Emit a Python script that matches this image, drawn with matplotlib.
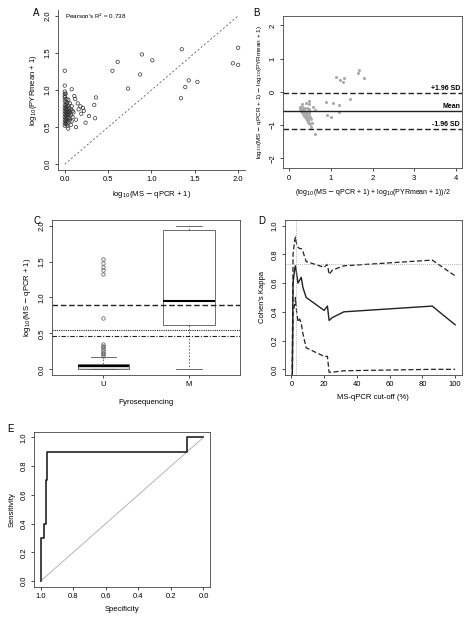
import matplotlib
matplotlib.use("Agg")
import matplotlib.pyplot as plt
import numpy as np

plt.rcParams['font.family'] = ['Liberation Sans', 'DejaVu Sans']
plt.rcParams['font.size'] = 5.5

# Panel A data: log10(MS-qPCR+1), log10(PYRmean+1)
a_x = [0.0,0.0,0.0,0.0,0.08,0.55,0.61,0.73,0.87,0.89,1.01,1.35,1.34,1.39,1.43,1.53,1.94,2.0,2.0,
       0.36,0.34,0.35,0.24,0.28,0.13,0.07,0.04,0.21,0.22,0.15,0.18,0.12,0.10,0.13,0.19,0.16,0.09,0.11,
       0.0,0.0,0.0,0.0,0.0,0.0,0.0,0.0,0.0,0.0,0.01,0.01,0.01,0.01,0.01,0.01,0.01,0.01,
       0.02,0.02,0.02,0.02,0.02,0.02,0.02,0.03,0.03,0.03,0.03,0.03,0.03,0.04,0.04,0.04,0.04,0.04,
       0.05,0.05,0.05,0.05,0.06,0.06,0.06,0.07,0.07,0.08,0.08,0.09,0.02,0.01,0.0,0.03]
a_y = [1.26,1.06,0.98,0.95,1.01,1.26,1.38,1.02,1.21,1.48,1.40,1.55,0.89,1.04,1.13,1.11,1.36,1.57,1.34,
       0.90,0.80,0.62,0.56,0.65,0.50,0.53,0.48,0.76,0.72,0.82,0.78,0.88,0.70,0.60,0.68,0.74,0.64,0.92,
       0.52,0.56,0.60,0.64,0.68,0.72,0.76,0.80,0.86,0.92,0.54,0.58,0.62,0.66,0.70,0.74,0.78,0.84,
       0.57,0.61,0.65,0.69,0.73,0.77,0.81,0.55,0.63,0.67,0.71,0.75,0.83,0.59,0.66,0.70,0.79,0.87,
       0.62,0.68,0.72,0.76,0.60,0.70,0.82,0.66,0.74,0.58,0.78,0.72,0.88,0.95,0.90,0.52]
pearson_text = "Pearson's R$^2$ = 0.738"

# Panel B reference lines
b_mean, b_upper, b_lower = -0.57, -0.03, -1.12

# Panel C boxplot stats
c_labels = ['U', 'M']
c_stats = [dict(med=0.04, q1=0.01, q3=0.08, whislo=0.0, whishi=0.17,
                fliers=[0.19,0.21,0.23,0.25,0.28,0.31,0.33,0.35,0.72,1.33,1.38,1.43,1.48,1.53]),
           dict(med=0.95, q1=0.62, q3=1.94, whislo=0.0, whishi=2.0, fliers=[])]
c_dashed, c_dotted, c_dashdot = 0.90, 0.55, 0.47

# Panel D kappa curves
d_x = [0.5,1,2,2.5,3,4,5,6,7,9,20,22,23,25,32,86,100]
d_k = [-0.1,0.6,0.7,0.72,0.68,0.6,0.62,0.64,0.57,0.5,0.41,0.44,0.34,0.36,0.4,0.44,0.31]
d_hi = [0.0,0.8,0.9,0.92,0.88,0.85,0.84,0.84,0.82,0.75,0.71,0.73,0.66,0.69,0.72,0.76,0.65]
d_lo = [-0.1,0.4,0.45,0.5,0.42,0.33,0.35,0.32,0.25,0.15,0.09,0.09,-0.02,-0.02,-0.01,0.0,0.0]
d_vline, d_hline = 2.5, 0.73

# Panel E ROC
e_spec = [1.0,1.0,0.98,0.98,0.97,0.97,0.96,0.96,0.1,0.1,0.0]
e_sens = [0.0,0.3,0.3,0.4,0.4,0.7,0.7,0.9,0.9,1.0,1.0]

fig = plt.figure(figsize=(4.74, 6.21), dpi=100)

def rstyle(ax, box=True):
    for s in ax.spines.values():
        s.set_linewidth(0.6)
        s.set_color('#444444')
    if not box:
        ax.spines['top'].set_visible(False)
        ax.spines['right'].set_visible(False)
    ax.tick_params(width=0.5, length=2.5, labelsize=5.5, pad=2)
    for lab in ax.get_yticklabels():
        lab.set_rotation(90)
        lab.set_va('center')

# A
axA = fig.add_axes([0.122, 0.726, 0.395, 0.258])
axA.scatter(a_x, a_y, s=6, facecolors='none', edgecolors='#333333', linewidths=0.5)
axA.plot([0, 2], [0, 2], ls=(0, (3, 3)), color='#444444', lw=0.5)
axA.set_xlim(-0.08, 2.08); axA.set_ylim(-0.08, 2.08)
axA.set_xticks([0, 0.5, 1.0, 1.5, 2.0]); axA.set_yticks([0, 0.5, 1.0, 1.5, 2.0])
axA.set_xticklabels(['0.0','0.5','1.0','1.5','2.0']); axA.set_yticklabels(['0.0','0.5','1.0','1.5','2.0'])
axA.set_xlabel(r'log$_{10}$(MS $-$ qPCR + 1)')
axA.set_ylabel(r'log$_{10}$(PYRmean + 1)')
axA.text(0.0, 2.0, pearson_text, fontsize=4.5, va='center')
rstyle(axA, box=False)
fig.text(0.07, 0.975, 'A', fontsize=7)

# B
axB = fig.add_axes([0.597, 0.729, 0.378, 0.246])
ax_ = np.array(a_x); ay_ = np.array(a_y)
axB.scatter((ax_ + ay_) / 2, ax_ - ay_, s=5, color='#aaaaaa', linewidths=0)
axB.axhline(b_mean, color='#222222', lw=1)
axB.axhline(b_upper, color='#222222', lw=1, ls=(0, (4, 2)))
axB.axhline(b_lower, color='#222222', lw=1, ls=(0, (4, 2)))
axB.text(4.1, b_upper + 0.03, '+1.96 SD', ha='right', va='bottom', fontsize=5, fontweight='bold')
axB.text(4.1, b_mean + 0.03, 'Mean', ha='right', va='bottom', fontsize=5, fontweight='bold')
axB.text(4.1, b_lower + 0.03, '-1.96 SD', ha='right', va='bottom', fontsize=5, fontweight='bold')
axB.set_xlim(-0.15, 4.15); axB.set_ylim(-2.3, 2.3)
axB.set_xticks([0, 1, 2, 3, 4]); axB.set_yticks([-2, -1, 0, 1, 2])
axB.set_xlabel(r'(log$_{10}$(MS $-$ qPCR + 1) + log$_{10}$(PYRmean + 1))/2', fontsize=5)
axB.set_ylabel(r'log$_{10}$(MS $-$ qPCR + 1) $-$ log$_{10}$(PYRmean + 1)', fontsize=4.6)
rstyle(axB)
fig.text(0.535, 0.975, 'B', fontsize=7)

# C
axC = fig.add_axes([0.110, 0.396, 0.397, 0.25])
for i, st in enumerate(c_stats):
    st['label'] = c_labels[i]
bp = axC.bxp(c_stats, positions=[1, 2], widths=0.6, patch_artist=True,
        boxprops=dict(facecolor='white', edgecolor='#555555', lw=0.6),
        medianprops=dict(color='black', lw=1.5),
        whiskerprops=dict(ls=(0, (2, 2)), color='#555555', lw=0.6),
        capprops=dict(color='#555555', lw=0.6),
        flierprops=dict(marker='o', markersize=2.5, markerfacecolor='none', markeredgecolor='#555555', markeredgewidth=0.5))
bp['boxes'][0].set_facecolor('#dddddd')
axC.axhline(c_dashed, color='#222222', lw=1, ls=(0, (4, 2)))
axC.axhline(c_dotted, color='#222222', lw=0.8, ls=(0, (1, 1)))
axC.axhline(c_dashdot, color='#222222', lw=0.8, ls=(0, (4, 1.5, 1, 1.5)))
axC.set_xlim(0.4, 2.6); axC.set_ylim(-0.08, 2.08)
axC.set_yticks([0, 0.5, 1.0, 1.5, 2.0]); axC.set_yticklabels(['0.0','0.5','1.0','1.5','2.0'])
axC.set_xlabel('Pyrosequencing', labelpad=8)
axC.set_ylabel(r'log$_{10}$(MS $-$ qPCR + 1)')
rstyle(axC)
fig.text(0.07, 0.64, 'C', fontsize=7)

# D
axD = fig.add_axes([0.601, 0.396, 0.373, 0.25])
axD.plot(d_x, d_k, color='#222222', lw=1)
axD.plot(d_x, d_hi, color='#222222', lw=0.9, ls=(0, (4, 2)))
axD.plot(d_x, d_lo, color='#222222', lw=0.9, ls=(0, (4, 2)))
axD.axvline(d_vline, color='#999999', lw=0.6, ls=(0, (1, 1.5)))
axD.axhline(d_hline, color='#999999', lw=0.6, ls=(0, (1, 1.5)))
axD.set_xlim(-4, 104); axD.set_ylim(-0.04, 1.04)
axD.set_xticks([0, 20, 40, 60, 80, 100]); axD.set_yticks([0, 0.2, 0.4, 0.6, 0.8, 1.0])
axD.set_yticklabels(['0.0','0.2','0.4','0.6','0.8','1.0'])
axD.set_xlabel('MS-qPCR cut-off (%)')
axD.set_ylabel("Cohen's Kappa")
rstyle(axD)
fig.text(0.545, 0.64, 'D', fontsize=7)

# E
axE = fig.add_axes([0.072, 0.055, 0.371, 0.25])
axE.plot([1, 0], [0, 1], color='#aaaaaa', lw=0.6)
axE.plot(e_spec, e_sens, color='#222222', lw=1.2)
axE.set_xlim(1.04, -0.04); axE.set_ylim(-0.04, 1.04)
axE.set_xticks([1.0, 0.8, 0.6, 0.4, 0.2, 0.0]); axE.set_yticks([0, 0.2, 0.4, 0.6, 0.8, 1.0])
axE.set_xticklabels(['1.0','0.8','0.6','0.4','0.2','0.0'])
axE.set_yticklabels(['0.0','0.2','0.4','0.6','0.8','1.0'])
axE.set_xlabel('Specificity')
axE.set_ylabel('Sensitivity')
rstyle(axE)
fig.text(0.015, 0.305, 'E', fontsize=7)

fig.savefig('out.png', dpi=100)
